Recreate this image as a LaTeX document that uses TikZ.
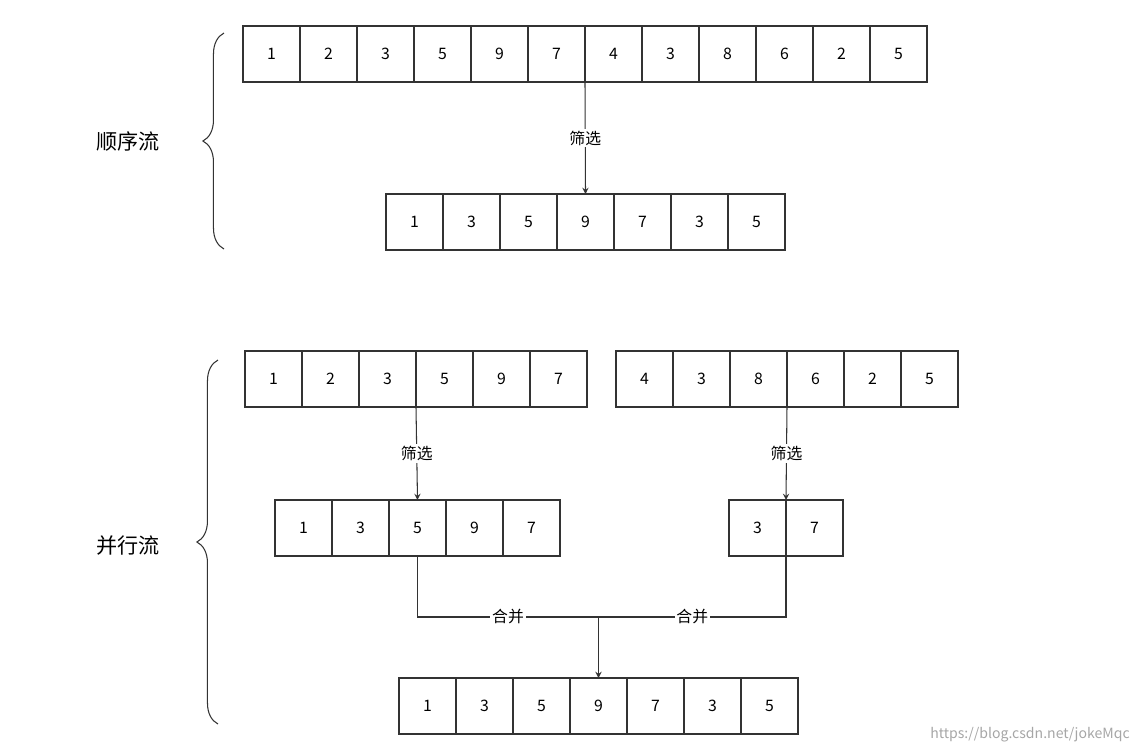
\documentclass[tikz,border=0pt]{standalone}
\usepackage{fontspec}
\setmainfont{Noto Sans CJK SC}
\usetikzlibrary{decorations.pathreplacing}
\begin{document}
\begin{tikzpicture}[x=0.02cm, y=-0.02cm,
    cell/.style={rectangle, draw=black!80, line width=0.6pt, minimum width=1.14cm, minimum height=1.12cm, inner sep=0pt, outer sep=0pt, font=\small},
    arrow/.style={->, line width=0.6pt, draw=black!80, >=stealth},
    link/.style={line width=0.6pt, draw=black!80},
    lbl/.style={fill=white, inner sep=1pt, font=\small},
    brace/.style={decorate, decoration={brace, amplitude=12pt}, line width=0.6pt, draw=black!80},
    side/.style={font=\large}
]
\useasboundingbox (0,0) rectangle (1139,752);
% sequential stream
\foreach \v [count=\i] in {1,2,3,5,9,7,4,3,8,6,2,5}
  \node[cell] (t\i) at ({243+57*\i-28.5},54) {\v};
\foreach \v [count=\i] in {1,3,5,9,7,3,5}
  \node[cell] (f\i) at ({386+57*\i-28.5},222) {\v};
\draw[arrow] (t6.south east) -- node[lbl] (sx) {筛选} (f4.north);
\draw[brace] (224,249) -- (224,33);
\node[side] (seq) at (128,141) {顺序流};
% parallel stream
\foreach \v [count=\i] in {1,2,3,5,9,7}
  \node[cell] (a\i) at ({245+57*\i-28.5},379) {\v};
\foreach \v [count=\i] in {4,3,8,6,2,5}
  \node[cell] (b\i) at ({616+57*\i-28.5},379) {\v};
\foreach \v [count=\i] in {1,3,5,9,7}
  \node[cell] (fa\i) at ({275+57*\i-28.5},528) {\v};
\foreach \v [count=\i] in {3,7}
  \node[cell] (fb\i) at ({729+57*\i-28.5},528) {\v};
\foreach \v [count=\i] in {1,3,5,9,7,3,5}
  \node[cell] (r\i) at ({399+57*\i-28.5},706) {\v};
\draw[arrow] (a3.south east) -- node[lbl] (sa) {筛选} (fa3.north);
\draw[arrow] (b3.south east) -- node[lbl] (sb) {筛选} (fb1.north east);
\coordinate (m) at (r4.north |- 0,617);
\draw[link] (fa3.south) |- node[lbl, pos=0.75] (ma) {合并} (m);
\draw[link] (fb1.south east) |- node[lbl, pos=0.75] (mb) {合并} (m);
\draw[arrow] (m) -- (r4.north);
\draw[brace] (218,724) -- (218,360);
\node[side] (par) at (128,546) {并行流};
\node[font=\footnotesize, text=black!35] (wm) at (1030,735) {https://blog.csdn.net/jokeMqc};
\end{tikzpicture}
\end{document}
